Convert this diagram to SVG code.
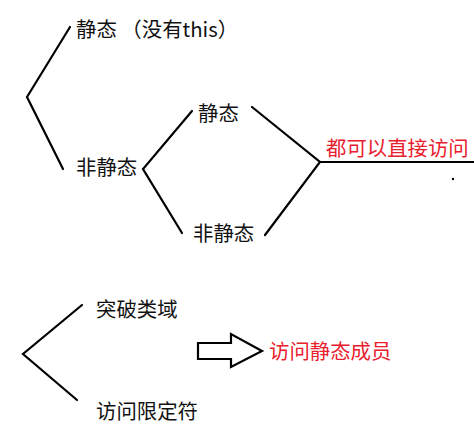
<svg xmlns="http://www.w3.org/2000/svg" width="474" height="428" viewBox="0 0 474 428">
<style>
.t{font-family:"Noto Sans CJK SC","Noto Sans",sans-serif;font-size:20.4px;fill:#111}
.r{fill:#e8202e}
.ln{stroke:#000;stroke-width:2.2;fill:none;stroke-linecap:round;stroke-linejoin:miter}
</style>
<rect width="474" height="428" fill="#fff"/>
<g id="connectors">
<polyline class="ln" points="70,27 27,97 63,169"/>
<polyline class="ln" points="192,111 143,169 182,233"/>
<polyline class="ln" points="252,107 320,162 265,235"/>
<line class="ln" x1="320" y1="162" x2="474" y2="162"/>
<polyline class="ln" points="82,305 23,354 77,400"/>
<polygon class="ln" points="198,343 231,343 231,334 262,351 231,367 231,359 198,359"/>
<circle cx="453" cy="179" r="1.2" fill="#000"/>
</g>
<g id="n-static"><text class="t" x="76" y="37">静态 （没有this）</text></g>
<g id="n-nonstatic"><text class="t" x="76" y="175">非静态</text></g>
<g id="n-static2"><text class="t" x="198" y="121">静态</text></g>
<g id="n-nonstatic2"><text class="t" x="193" y="241">非静态</text></g>
<g id="n-access"><text class="t r" x="326" y="156">都可以直接访问</text></g>
<g id="n-break"><text class="t" x="96" y="317">突破类域</text></g>
<g id="n-qualifier"><text class="t" x="96" y="419">访问限定符</text></g>
<g id="n-member"><text class="t r" x="269" y="359">访问静态成员</text></g>
</svg>
